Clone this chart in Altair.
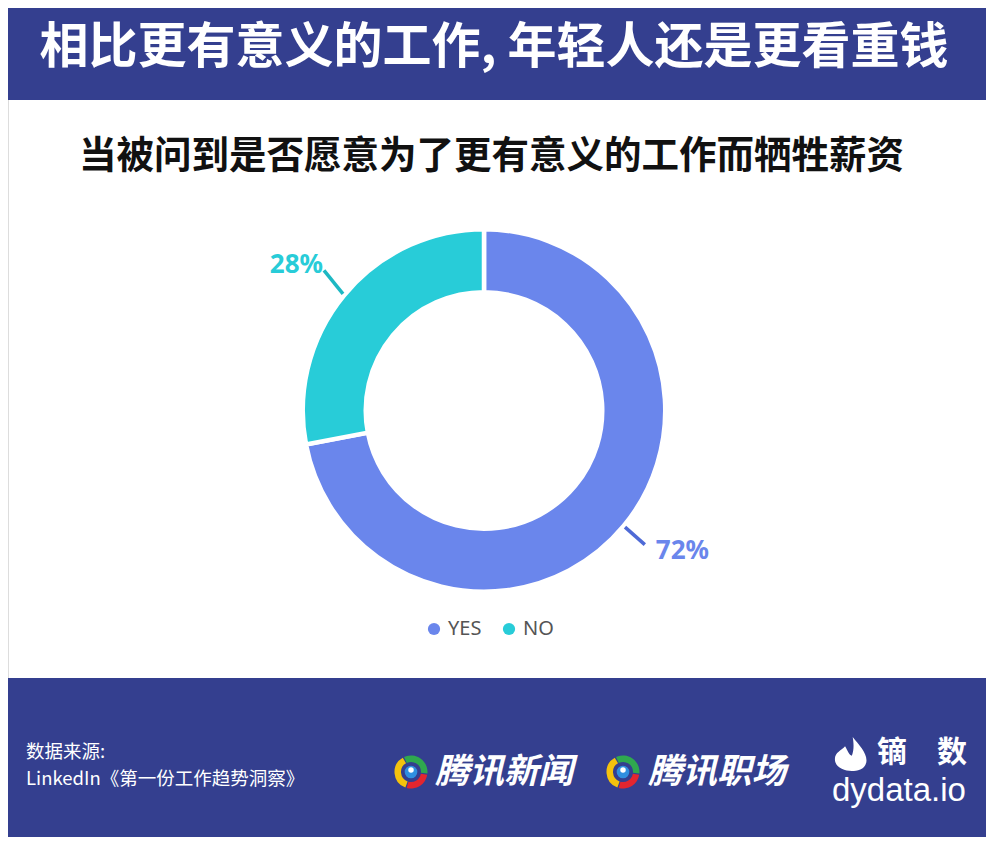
import altair as alt
import pandas as pd

# ---------------- data ----------------
categories = ["YES", "NO"]
shares = [72, 28]
slice_colors = ["#6a86ec", "#28ccd8"]
line_colors = ["#4e6ad6", "#1db8c3"]

title_text = "相比更有意义的工作, 年轻人还是更看重钱"
subtitle_text = "当被问到是否愿意为了更有意义的工作而牺牲薪资"
source_lines = ["数据来源:", "LinkedIn《第一份工作趋势洞察》"]
brand_names = ["腾讯新闻", "腾讯职场"]
logo_parts = ["yellow", "green", "red"]
logo_start_deg = [200, 335, 100]
logo_end_deg = [330, 455, 195]
logo_colors = ["#f4c20d", "#2fa84f", "#e3262f"]
dydata_name = "镝　数"
dydata_url = "dydata.io"

# ---------------- layout ----------------
W, H = 978, 829
O = 8
NAVY = "#343f8f"
CX, CY = 484 - O, 410.5 - O
SW = 4.5
R_OUT, R_IN = 179 + SW / 2, 120.5 - SW / 2
CJK = "Noto Sans CJK SC"

df = pd.DataFrame({
    "cat": categories,
    "share": shares,
    "order": list(range(len(categories))),
    "lc": line_colors,
})
one = pd.DataFrame({"a": [0]})

header = alt.Chart(one).mark_rect(color=NAVY).encode(
    x=alt.value(0), x2=alt.value(W), y=alt.value(0), y2=alt.value(100 - O))
footer = alt.Chart(one).mark_rect(color=NAVY).encode(
    x=alt.value(0), x2=alt.value(W), y=alt.value(678 - O), y2=alt.value(H))

title = alt.Chart(one).mark_text(
    text=title_text, font=CJK, fontSize=49, fontWeight="bold", color="white",
    align="center", baseline="middle").encode(x=alt.value(494 - O), y=alt.value(48 - O))
subtitle = alt.Chart(one).mark_text(
    text=subtitle_text, font=CJK, fontSize=37.5, fontWeight="bold", color="#111111",
    align="center", baseline="middle").encode(x=alt.value(491.5 - O), y=alt.value(157 - O))

color_scale = alt.Scale(domain=categories, range=slice_colors)
donut = alt.Chart(df).mark_arc(
    outerRadius=R_OUT, innerRadius=R_IN, stroke="white", strokeWidth=SW).encode(
    theta=alt.Theta("share:Q", stack=True),
    color=alt.Color("cat:N", scale=color_scale, sort=categories, legend=alt.Legend(
        orient="none", legendX=424 - O, legendY=619 - O, direction="horizontal",
        title=None, symbolType="circle", symbolSize=150, symbolStrokeWidth=0,
        labelFontSize=20, labelColor="#555555", labelFont="Noto Sans",
        columnPadding=17, labelOffset=4, padding=0)),
    order=alt.Order("order:Q"),
    x=alt.value(CX), y=alt.value(CY))

calc = alt.Chart(df).transform_window(
    cum="sum(share)", sort=[alt.SortField("order")], frame=[None, 0]
).transform_joinaggregate(total="sum(share)").transform_calculate(
    mid="(datum.cum - datum.share/2) / datum.total * 2 * PI",
    side="sin(datum.mid) >= 0 ? 1 : -1",
    label="datum.share + '%'",
).transform_calculate(
    rl="datum.side > 0 ? 223 : 209",
).transform_calculate(
    lx=f"{CX} + datum.rl * sin(datum.mid)",
    ly=f"{CY} - datum.rl * cos(datum.mid) + (datum.side > 0 ? -2 : -12)",
    x1=f"{CX} + 183 * sin(datum.mid)",
    y1=f"{CY} - 183 * cos(datum.mid)",
).transform_calculate(
    x2="datum.lx + (datum.side > 0 ? -11 : 1)",
    y2="datum.ly + (datum.side > 0 ? -6 : 5)",
)

rules = calc.mark_rule(strokeWidth=3.5).encode(
    x=alt.X("x1:Q", scale=None), y=alt.Y("y1:Q", scale=None),
    x2="x2:Q", y2="y2:Q",
    color=alt.Color("lc:N", scale=None))

lab_left = calc.transform_filter("datum.side > 0").mark_text(
    align="left", baseline="middle", font="Noto Sans", fontSize=26, fontWeight="bold").encode(
    x=alt.X("lx:Q", scale=None), y=alt.Y("ly:Q", scale=None), text="label:N",
    color=alt.Color("cat:N", scale=color_scale, legend=None))
lab_right = calc.transform_filter("datum.side < 0").mark_text(
    align="right", baseline="middle", font="Noto Sans", fontSize=26, fontWeight="bold").encode(
    x=alt.X("lx:Q", scale=None), y=alt.Y("ly:Q", scale=None), text="label:N",
    color=alt.Color("cat:N", scale=color_scale, legend=None))

# two-line source note drawn as one multi-line text mark
source = alt.Chart(one).mark_text(
    text=source_lines, lineHeight=27, align="left", baseline="middle",
    font=CJK, fontSize=18.5, color="white").encode(
    x=alt.value(26 - O), y=alt.value(752 - O))

logo_df = pd.DataFrame({"part": logo_parts, "s": logo_start_deg, "e": logo_end_deg, "c": logo_colors})


def tencent_logo(cx, cy):
    ring = alt.Chart(logo_df).transform_calculate(
        t1="datum.s * PI / 180", t2="datum.e * PI / 180").mark_arc(
        outerRadius=16.5, innerRadius=10).encode(
        theta=alt.Theta("t1:Q", scale=None), theta2="t2:Q",
        fill=alt.Fill("c:N", scale=None), x=alt.value(cx), y=alt.value(cy))
    inner = alt.Chart(one).mark_circle(size=160, color="#2f8fe0", opacity=1).encode(
        x=alt.value(cx), y=alt.value(cy))
    head = alt.Chart(one).mark_circle(size=30, color="white", opacity=1).encode(
        x=alt.value(cx), y=alt.value(cy - 2))
    return [ring, inner, head]


brands = pd.DataFrame({"t": brand_names, "i": [0, 1]})
brand_text = alt.Chart(brands).transform_calculate(xx=f"{435 - O} + datum.i * 213").mark_text(
    align="left", baseline="middle", font=CJK, fontSize=34.5, fontWeight="bold",
    fontStyle="italic", color="white").encode(
    x=alt.X("xx:Q", scale=None), y=alt.value(773 - O), text="t:N")

flame_path = ("M0.1,-1 C0.5,-0.5 1,0 0.9,0.5 C0.8,0.95 0.35,1 0.05,1 "
              "C-0.4,1 -0.95,0.8 -0.95,0.3 C-0.95,-0.1 -0.55,-0.2 -0.35,-0.45 "
              "C-0.2,-0.2 -0.1,0.1 0.05,0.1 C0.2,-0.3 0.15,-0.7 0.1,-1 Z")
flame = alt.Chart(one).mark_point(shape=flame_path, filled=True, fill="white",
                                  opacity=1, size=1150, strokeWidth=0).encode(
    x=alt.value(851 - O), y=alt.value(754 - O))
dy_name = alt.Chart(one).mark_text(
    text=dydata_name, font=CJK, fontSize=30, fontWeight="bold", color="white",
    align="left", baseline="middle").encode(x=alt.value(877 - O), y=alt.value(753 - O))
dy_url = alt.Chart(one).mark_text(
    text=dydata_url, font="Liberation Sans", fontSize=33, color="white",
    align="left", baseline="alphabetic").encode(x=alt.value(832 - O), y=alt.value(801 - O))

layers = [header, footer, title, subtitle, donut, rules, lab_left, lab_right, source, brand_text]
layers += tencent_logo(411 - O, 772 - O)
layers += tencent_logo(623 - O, 772 - O)
layers += [flame, dy_name, dy_url]

chart = alt.layer(*layers).properties(
    width=W, height=H, padding=0, autosize=alt.AutoSizeParams(type="none")
).configure_view(strokeWidth=0).configure(background="white")

chart.save("out.html", embed_options={"renderer": "svg", "actions": False})
